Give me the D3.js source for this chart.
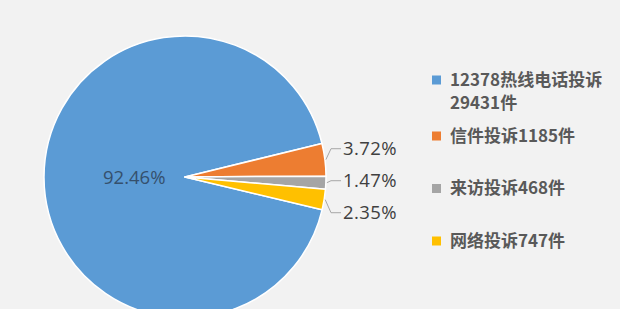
<!DOCTYPE html>
<html>
<head>
<meta charset="utf-8">
<script src="https://cdn.jsdelivr.net/npm/d3@7"></script>
<style>
  body { margin: 0; background: #f2f2f2; }
  svg { display: block; }
</style>
</head>
<body>
<svg id="chart" width="620" height="309"></svg>
<script>
// complaint channels and their counts
const categories = ["12378热线电话投诉", "信件投诉", "来访投诉", "网络投诉"];
const counts = [29431, 1185, 468, 747];
const pctLabels = ["92.46%", "3.72%", "1.47%", "2.35%"];
const legendLabels = [["12378热线电话投诉", "29431件"], ["信件投诉1185件"], ["来访投诉468件"], ["网络投诉747件"]];
const colors = ["#5b9bd5", "#ed7d31", "#a5a5a5", "#ffc000"];

const svg = d3.select("#chart");
const width = 620, height = 309;

svg.append("rect").attr("width", width).attr("height", height).attr("fill", "#f2f2f2");

const cx = 185, cy = 177, r = 141;

// Excel style: first slice rotated so the small ones sit at 3 o'clock
const startDeg = 103.4;
const pie = d3.pie().sort(null)
    .startAngle(startDeg * Math.PI / 180)
    .endAngle((startDeg + 360) * Math.PI / 180);
const arcs = pie(counts);

const arc = d3.arc().innerRadius(0).outerRadius(r);

const g = svg.append("g").attr("transform", `translate(${cx},${cy})`);

g.selectAll("path.slice")
    .data(arcs)
    .join("path")
    .attr("class", "slice")
    .attr("d", arc)
    .attr("fill", (d, i) => colors[i])
    .attr("stroke", "#fff")
    .attr("stroke-width", 1.5)
    .attr("stroke-linejoin", "round");

// big slice label sits inside
const inner = d3.arc().innerRadius(r * 0.36).outerRadius(r * 0.36);
const c0 = inner.centroid(arcs[0]);
g.append("text")
    .attr("x", c0[0])
    .attr("y", c0[1])
    .attr("dy", "0.35em")
    .attr("text-anchor", "middle")
    .attr("font-family", "'Open Sans', 'Noto Sans', sans-serif")
    .attr("font-size", 18.5)
    .attr("fill", "#35506d")
    .text(pctLabels[0]);

// small slices: labels outside, spread apart vertically
const edge = d3.arc().innerRadius(r + 1).outerRadius(r + 1);
const outside = arcs.slice(1).map((d, k) => {
    const p = edge.centroid(d);
    return { i: k + 1, px: p[0], py: p[1], y: p[1] };
});
const gap = 32;
const mid = outside[1].y;
outside.forEach((o, k) => { o.y = mid + (k - 1) * gap - 2; });

const labelX = r + 17;

g.selectAll("path.leader")
    .data(outside)
    .join("path")
    .attr("class", "leader")
    .attr("fill", "none")
    .attr("stroke", "#a6a6a6")
    .attr("stroke-width", 1)
    .attr("d", o => {
        const bx = Math.max(o.px + 4, labelX - 12);
        return `M${o.px},${o.py}L${bx},${o.y}L${labelX - 2},${o.y}`;
    });

g.selectAll("text.pct")
    .data(outside)
    .join("text")
    .attr("class", "pct")
    .attr("x", labelX)
    .attr("y", o => o.y)
    .attr("dy", "0.35em")
    .attr("font-family", "'Open Sans', 'Noto Sans', sans-serif")
    .attr("font-size", 18.5)
    .attr("letter-spacing", 0.4)
    .attr("fill", "#404040")
    .text(o => pctLabels[o.i]);

// legend
const lgX = 432, lineH = 23;
const itemY = i => i === 0 ? 80 : 136 + (i - 1) * 52.5;
const lg = svg.append("g");
legendLabels.forEach((lines, i) => {
    const y0 = itemY(i);
    lg.append("rect")
        .attr("x", lgX)
        .attr("y", y0 - 4.5)
        .attr("width", 9)
        .attr("height", 9)
        .attr("fill", colors[i]);
    const t = lg.append("text")
        .attr("font-family", "'Noto Sans CJK SC', 'Noto Sans', sans-serif")
        .attr("font-weight", "bold")
        .attr("font-size", 17)
        .attr("fill", "#595959");
    lines.forEach((s, j) => {
        t.append("tspan")
            .attr("x", lgX + 18)
            .attr("y", y0 + j * lineH)
            .attr("dy", "0.35em")
            .text(s);
    });
});
</script>
</body>
</html>
